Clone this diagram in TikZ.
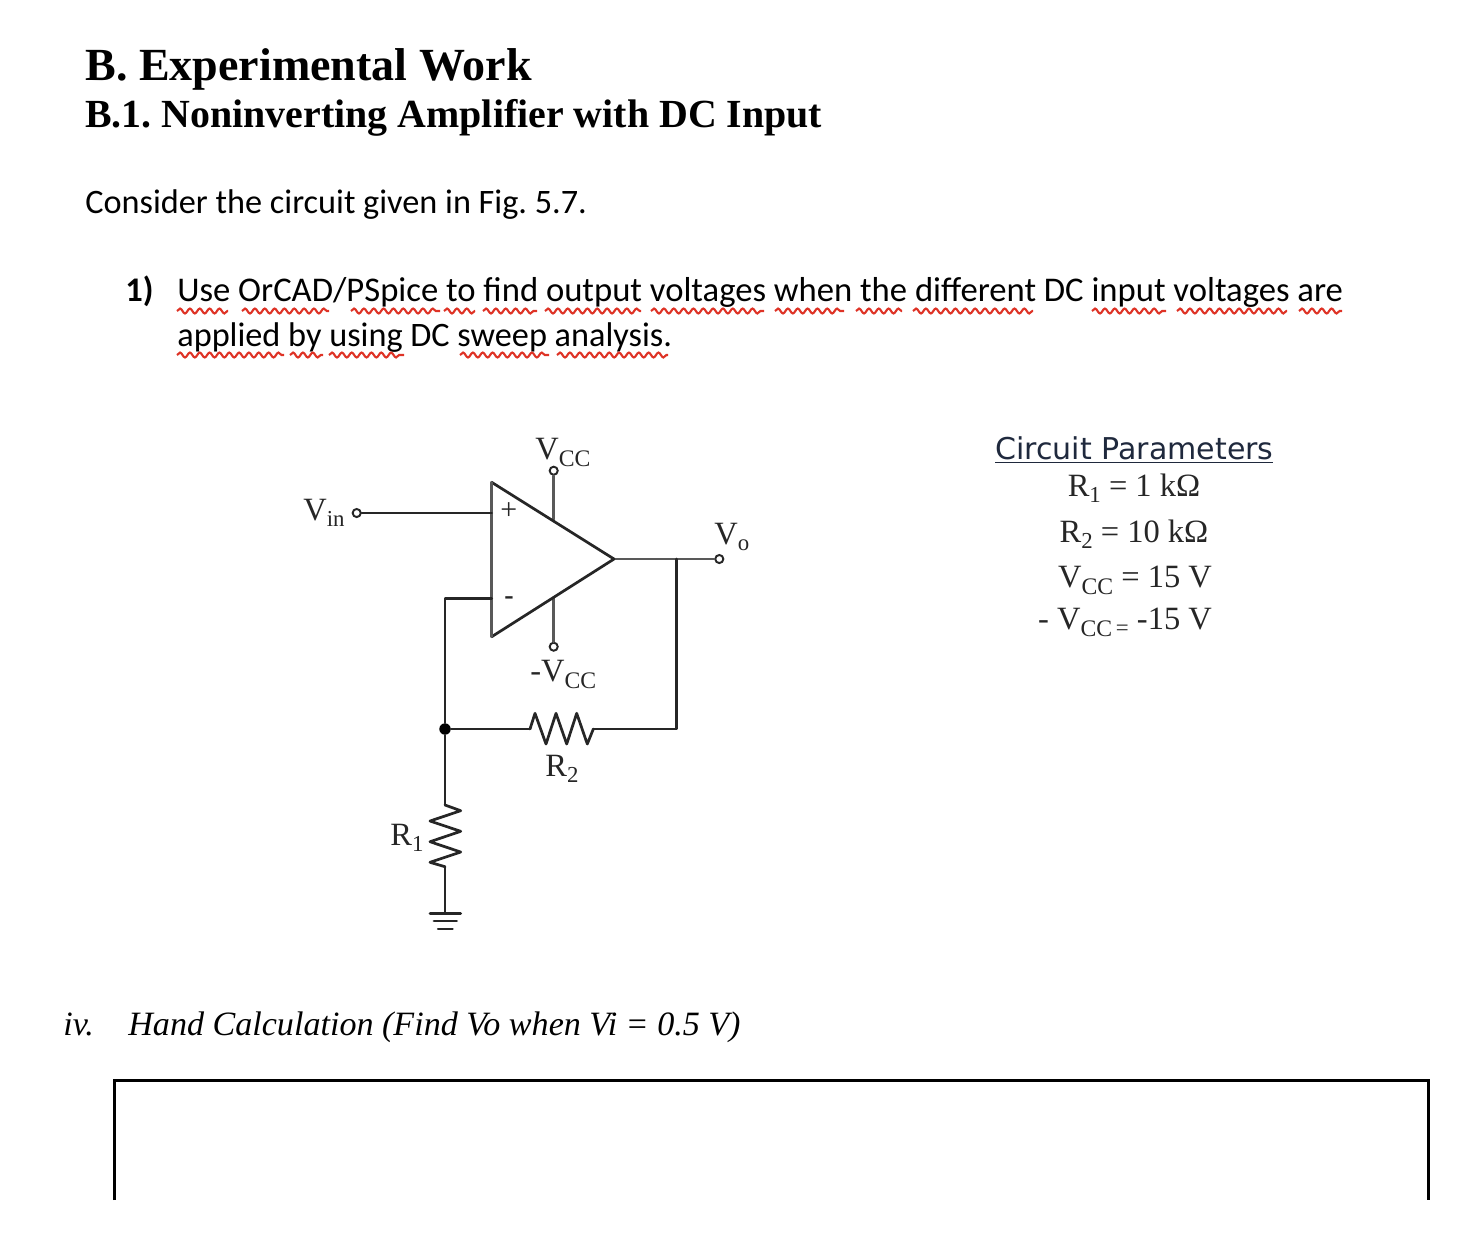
\documentclass[tikz,border=0pt]{standalone}
\usepackage{fontspec}
\setmainfont{Liberation Serif}
\newfontfamily\bodyfont{Carlito}
\newfontfamily\paramfont{DejaVu Sans}
\usetikzlibrary{positioning, decorations.pathmorphing}
\definecolor{squigred}{rgb}{0.87, 0.2, 0.15}
\definecolor{paramink}{rgb}{0.12, 0.16, 0.24}
\newcommand{\lowtext}[1]{\raisebox{-0.22em}{\fontsize{13.5}{15}\selectfont #1}}
\newcommand{\lowsmall}[1]{\raisebox{-0.2em}{\fontsize{13}{14}\selectfont #1}}
\frenchspacing
\tikzset{
    wire/.style={line width=1.55pt, color=black!85, line cap=round, line join=round},
    terminal/.style={draw, circle, line width=1.1pt, color=black!85, fill=white, inner sep=0pt, minimum size=4.6pt},
    label/.style={anchor=base west, inner sep=0pt, font=\fontsize{18.5}{20}\selectfont, text=black!85},
    head/.style={anchor=base west, inner sep=0pt, font=\bfseries},
    body/.style={anchor=base west, inner sep=0pt, font=\bodyfont\fontsize{19.5}{21}\selectfont},
    param/.style={anchor=base, inner sep=0pt, font=\fontsize{18.5}{20}\selectfont, text=black!85},
    squig/.style={color=squigred, line width=1.2pt, decorate, decoration={snake, amplitude=1.4pt, segment length=5.6pt}}
}
\begin{document}
\begin{tikzpicture}[x=0.02cm, y=-0.02cm]
    \useasboundingbox (0, 0) rectangle (1476, 1232);

    \node[head, font=\bfseries\fontsize{26.2}{28}\selectfont] (Title) at (85, 80) {B. Experimental Work};
    \node[head, font=\bfseries\fontsize{22.7}{25}\selectfont] (Section) at (85, 127) {B.1. Noninverting Amplifier with DC Input};
    \node[body] (Consider) at (85, 213) {Consider the circuit given in Fig. 5.7.};
    \node[body, font=\bodyfont\bfseries\fontsize{19.65}{21}\selectfont] (Num) at (125, 301) {1)};
    \node[body, font=\bodyfont\fontsize{19.72}{21}\selectfont] (LineA) at (177, 301) {Use OrCAD/PSpice to find output voltages when the different DC input voltages are};
    \node[body] (LineB) at (177, 346) {applied by using DC sweep analysis.};

    \foreach \xa/\xb in {177/228, 242/329, 351/440, 444/475, 483/537, 545/641, 651/764, 775/844, 856/902, 913/1033, 1092/1166, 1177/1287, 1299/1342}
        \draw [squig] (\xa, 311) -- (\xb, 311);
    \foreach \xa/\xb in {177/284, 290/323, 329/404, 460/549, 557/668}
        \draw [squig] (\xa, 355) -- (\xb, 355);

    \coordinate (OpTop) at (491.7, 482.3);
    \coordinate (OpBot) at (491.7, 636.7);
    \coordinate (OpTip) at (614, 559);
    \coordinate (OpPlus) at (491.7, 513);
    \coordinate (OpMinus) at (491.7, 598.3);
    \coordinate (SupTop) at (553.7, 519.5);
    \coordinate (SupBot) at (553.7, 598);
    \coordinate (Tap) at (676.7, 559);
    \coordinate (Corner) at (676.7, 729);
    \coordinate (Bend) at (445, 598.3);
    \coordinate (RbL) at (530, 729);
    \coordinate (RbR) at (593.3, 729);
    \coordinate (RaT) at (445, 805);
    \coordinate (RaB) at (445, 866.7);
    \coordinate (Gnd) at (445, 913.3);

    \node[terminal] (Tin) at (356.7, 513) {};
    \node[terminal] (Tpos) at (553.7, 470.7) {};
    \node[terminal] (Tneg) at (553.7, 646.7) {};
    \node[terminal] (Tout) at (719.3, 559) {};
    \node[circle, fill=black, inner sep=0pt, minimum size=6.5pt] (Jn) at (445, 729) {};

    \draw [wire, color=black!65] (Tpos) -- (SupTop);
    \draw [wire, color=black!65] (Tneg) -- (SupBot);
    \draw [wire, color=black!65] (OpTip) -- (Tout);
    \draw [wire] (OpTop) -- (OpTip) -- (OpBot);
    \draw [wire, color=black!65] (OpTop) -- (OpBot);
    \draw [wire] (Tin) -- (OpPlus);
    \draw [wire] (OpMinus) -- (Bend) -- (Jn);
    \draw [wire] (Tap) -- (Corner) -- (RbR);
    \draw [wire] (RbL) -- (Jn);
    \draw [wire] (Jn) -- (RaT);
    \draw [wire] (RaB) -- (Gnd);
    \draw [wire] (RbL) -- (535, 713.3) -- (546, 744) -- (556, 713.3) -- (566.7, 744) -- (576.7, 713.3) -- (587.3, 744) -- (RbR);
    \draw [wire] (RaT) -- (460.7, 810.7) -- (430, 821) -- (460.7, 831.3) -- (430, 841.7) -- (460.7, 852) -- (430, 862.3) -- (RaB);
    \draw [wire] (430, 913.3) -- (460.7, 913.3);
    \draw [wire] (434, 921) -- (456.7, 921);
    \draw [wire, line width=1.2pt] (438, 929) -- (452.7, 929);

    \node[label, font=\fontsize{17}{18}\selectfont] (PlusSign) at (500, 519) {+};
    \node[label, font=\bfseries\fontsize{16}{17}\selectfont] (MinusSign) at (504, 604) {-};
    \node[label] (Vin) at (303, 520) {V\lowsmall{in}};
    \node[label] (Vpos) at (535, 459) {V\lowtext{CC}};
    \node[label] (Vneg) at (530, 681) {-V\lowtext{CC}};
    \node[label] (Vout) at (714, 544) {V\lowsmall{o}};
    \node[label] (LabelRb) at (545, 776) {R\lowsmall{2}};
    \node[label] (LabelRa) at (390, 845) {R\lowsmall{1}};

    \node[anchor=base west, inner sep=0pt, font=\paramfont\fontsize{17.1}{19}\selectfont, text=paramink] (ParamHead) at (995, 459) {Circuit Parameters};
    \draw [line width=1pt, color=paramink] (ParamHead.base west) ++(0, 3.5) -- ++(278, 0);
    \node[param] (ParamA) at (1134, 496) {R\lowsmall{1} = 1 kΩ};
    \node[param] (ParamB) at (1134, 542) {R\lowsmall{2} = 10 kΩ};
    \node[param] (ParamC) at (1135, 587) {V\lowtext{CC} = 15 V};
    \node[param] (ParamD) at (1125, 629) {- V\lowtext{CC}\lowsmall{\,=} -15 V};

    \node[anchor=base west, inner sep=0pt, font=\itshape\fontsize{19.4}{21}\selectfont] (Roman) at (63, 1035) {iv.};
    \node[anchor=base west, inner sep=0pt, font=\itshape\fontsize{19.4}{21}\selectfont] (Hand) at (128, 1035) {Hand Calculation (Find Vo when Vi = 0.5 V)};

    \coordinate (BoxL) at (114.5, 1200);
    \coordinate (BoxTL) at (114.5, 1080);
    \coordinate (BoxTR) at (1428, 1080);
    \coordinate (BoxR) at (1428, 1200);
    \draw [line width=1.7pt, line join=miter] (BoxL) -- (BoxTL) -- (BoxTR) -- (BoxR);
\end{tikzpicture}
\end{document}
